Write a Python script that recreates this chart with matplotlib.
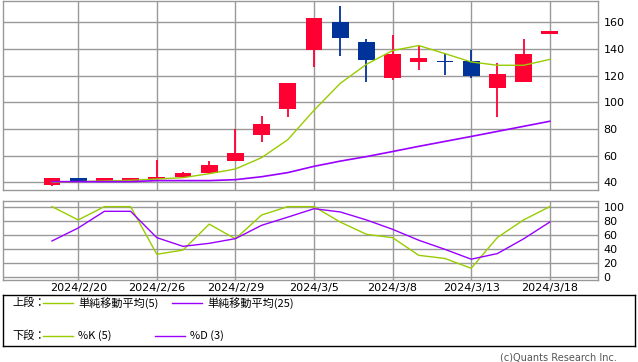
import matplotlib
matplotlib.use("Agg")
import matplotlib.pyplot as plt
from matplotlib.lines import Line2D
from matplotlib.patches import Rectangle

# ---------------- data ----------------
dates = ["2024/2/19", "2024/2/20", "2024/2/21", "2024/2/22", "2024/2/26",
         "2024/2/27", "2024/2/28", "2024/2/29", "2024/3/1", "2024/3/4",
         "2024/3/5", "2024/3/6", "2024/3/7", "2024/3/8", "2024/3/11",
         "2024/3/12", "2024/3/13", "2024/3/14", "2024/3/15", "2024/3/18"]
tick_dates = ["2024/2/20", "2024/2/26", "2024/2/29", "2024/3/5",
              "2024/3/8", "2024/3/13", "2024/3/18"]

opens = [38, 43, 41, 41, 42.5, 44.3, 47.2, 56.2, 75.5, 95, 139.5, 160, 145, 118.5, 130, 131, 131, 111, 115.5, 151]
closes = [43.2, 41, 43.2, 43.2, 44, 47, 53, 62, 84, 114.5, 163, 148.5, 132, 136, 133, 130, 120, 121, 136, 153.5]
highs = [43.5, 43.2, 43.2, 43.2, 57, 47.8, 56, 80, 90, 114.5, 163, 172, 147.5, 150.5, 143, 137, 139, 129.5, 147.5, 153.5]
lows = [37.3, 41, 41, 41, 42.5, 44.3, 46.3, 56.2, 70, 89, 126.5, 135, 115.5, 117, 124, 120.5, 118, 89, 115.5, 151]

ma5 = [40, 40.5, 41, 41.5, 42.5, 43.5, 46.5, 50, 58.5, 72, 94, 114.2, 128.5, 138.8, 142.6, 136.5, 130.3, 127.8, 127.8, 132.2]
ma25 = [40.5, 40.5, 40.5, 40.5, 41.3, 41.3, 41.3, 42, 44.2, 47.3, 52, 55.9, 59.3, 63.1, 67, 70.7, 74.4, 78.2, 82, 85.8]

pct_k = [100, 81, 100, 100, 32, 38, 75, 54, 88, 100, 100, 78, 60.5, 55.7, 30.5, 26, 12, 56, 81, 100]
pct_d = [51, 69.5, 93.3, 93.3, 55.7, 43.3, 47.6, 54.3, 73.3, 85, 97, 92.4, 81, 67.6, 52, 39, 25, 33, 54, 78]

upper_ticks = [40, 60, 80, 100, 120, 140, 160]
lower_ticks = [0, 20, 40, 60, 80, 100]

# ---------------- style ----------------
RED = "#FF0033"
BLUE = "#003399"
GREEN = "#99CC00"
PURPLE = "#9900FF"
GRID = "#999999"
FONT = ["Noto Sans CJK JP", "DejaVu Sans"]
plt.rcParams["font.family"] = ["DejaVu Sans", "Noto Sans CJK JP"]

W, H = 638, 362
fig = plt.figure(figsize=(W / 100, H / 100), dpi=100)

def fx(px):
    return px / W

def fy(py):
    return 1 - py / H

ax1 = fig.add_axes([fx(3), fy(190), fx(595), 189 / H])
ax2 = fig.add_axes([fx(3), fy(280), fx(595), 79 / H])

x = list(range(len(dates)))
tick_pos = [dates.index(d) for d in tick_dates]

for ax in (ax1, ax2):
    ax.set_xlim(-1.87, 20.84)
    ax.set_xticks(tick_pos)
    ax.yaxis.tick_right()
    ax.tick_params(axis="both", length=0, labelsize=8, colors="black")
    ax.tick_params(axis="y", pad=4)
    ax.grid(True, color=GRID, lw=1.0)
    ax.set_axisbelow(True)
    for s in ax.spines.values():
        s.set_color(GRID)
        s.set_linewidth(1.0)

# upper panel: candles
ax1.set_ylim(34.25, 176)
ax1.set_yticks(upper_ticks)
ax1.set_xticklabels([])
for i in x:
    o, c = opens[i], closes[i]
    col = RED if c >= o else BLUE
    ax1.vlines(i, lows[i], highs[i], color=col, lw=1.3, zorder=3)
    h = max(abs(c - o), 0.9)
    ax1.bar(i, h, bottom=min(o, c), width=0.64, color=col, zorder=3, linewidth=0)
ax1.plot(x, ma5, color=GREEN, lw=1.0, zorder=4)
ax1.plot(x, ma25, color=PURPLE, lw=1.2, zorder=4)

# lower panel: stochastics
ax2.set_ylim(-4.7, 108)
ax2.set_yticks(lower_ticks)
ax2.set_xticklabels(tick_dates, fontsize=8)
ax2.tick_params(axis="x", pad=2)
ax2.plot(x, pct_k, color=GREEN, lw=1.0, zorder=4)
ax2.plot(x, pct_d, color=PURPLE, lw=1.0, zorder=4)

# legend box
lg = fig.add_axes([fx(3), fy(346), fx(632), 51 / H])
lg.set_xlim(0, 632)
lg.set_ylim(51, 0)
lg.set_xticks([])
lg.set_yticks([])
for s in lg.spines.values():
    s.set_color("black")
    s.set_linewidth(1.0)

def legend_row(y, label, items):
    lg.text(9, y, label, fontsize=8, va="center", ha="left", family=FONT)
    for (x0, x1, col, txt) in items:
        lg.add_line(Line2D([x0, x1], [y, y], color=col, lw=1.0))
        lg.text(x1 + 5, y, txt, fontsize=8, va="center", ha="left", family=FONT)

legend_row(8, "上段：", [(40, 70, GREEN, "単純移動平均(5)"), (169, 199, PURPLE, "単純移動平均(25)")])
legend_row(41, "下段：", [(40, 70, GREEN, "%K (5)"), (152, 182, PURPLE, "%D (3)")])

fig.text(fx(617), fy(357), "(c)Quants Research Inc.", ha="right", va="center",
         fontsize=7, color="#555555")

fig.savefig("out.png", dpi=100)
